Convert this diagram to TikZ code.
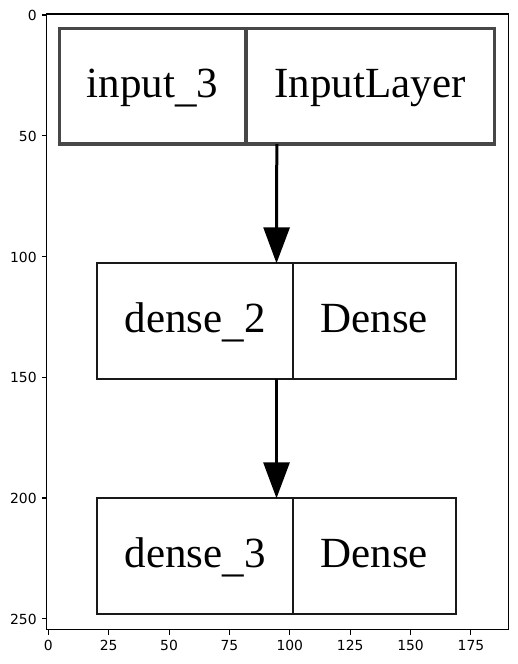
\documentclass[tikz,border=0pt]{standalone}
\usepackage{fontspec}
\setmainfont{Liberation Serif}
\newfontfamily\tickfont{DejaVu Sans}
\usetikzlibrary{positioning,calc,arrows.meta}

\newcommand{\lowbar}{\raisebox{-4pt}{\_}}

\begin{document}
\begin{tikzpicture}[
        x=1pt, y=-1pt,
        cell/.style={draw=black!90, line width=2.2pt, inner sep=0pt, outer sep=0pt, minimum height=116pt,
            text height=28.4pt, text depth=6pt, font=\fontsize{43}{50}\selectfont},
        inbox/.style={cell, draw=black!72, line width=3.5pt, minimum height=115.7pt},
        edge/.style={line width=3pt, -{Triangle[length=36pt,width=26pt]}},
        axis/.style={line width=1.1pt},
        ticklabel/.style={inner sep=0pt, font=\tickfont\fontsize{13.9}{16}\selectfont}
    ]
        \useasboundingbox (0,0) rectangle (517,664);

        % Nodes
        \node[inbox, minimum width=186.7pt] (in_name) at (152.65,86.15) {input\lowbar3};
        \node[inbox, minimum width=248.3pt, right=0pt of in_name] (in_type) {InputLayer};
        \node[cell, minimum width=195.7pt] (d2_name) at (195.15,321.3) {dense\lowbar2};
        \node[cell, minimum width=162.7pt, right=0pt of d2_name] (d2_type) {Dense};
        \node[cell, minimum width=195.7pt, below=119pt of d2_name] (d3_name) {dense\lowbar3};
        \node[cell, minimum width=162.7pt, right=0pt of d3_name] (d3_type) {Dense};

        % Arrows
        \draw[edge] ($(in_name.south west)!.5!(in_type.south east)$) -- ($(d2_name.north west)!.5!(d2_type.north east)$);
        \draw[edge] ($(d2_name.south west)!.5!(d2_type.south east)$) -- ($(d3_name.north west)!.5!(d3_type.north east)$);

        % Axes
        \draw[axis] (46.8,14) rectangle (508.3,629.8);
        \foreach \v in {0,25,...,175} {
            \draw[axis] ({48.3+2.415*\v},629.8) -- ++(0,4.9);
            \node[ticklabel, anchor=base] (xt\v) at ({48.3+2.415*\v},650.5) {\v};
        }
        \foreach \v in {0,50,...,250} {
            \draw[axis] (46.8,{15+2.415*\v}) -- ++(-4.9,0);
            \node[ticklabel, anchor=base east] (yt\v) at (36.8,{20.5+2.415*\v}) {\v};
        }
    \end{tikzpicture}
\end{document}
